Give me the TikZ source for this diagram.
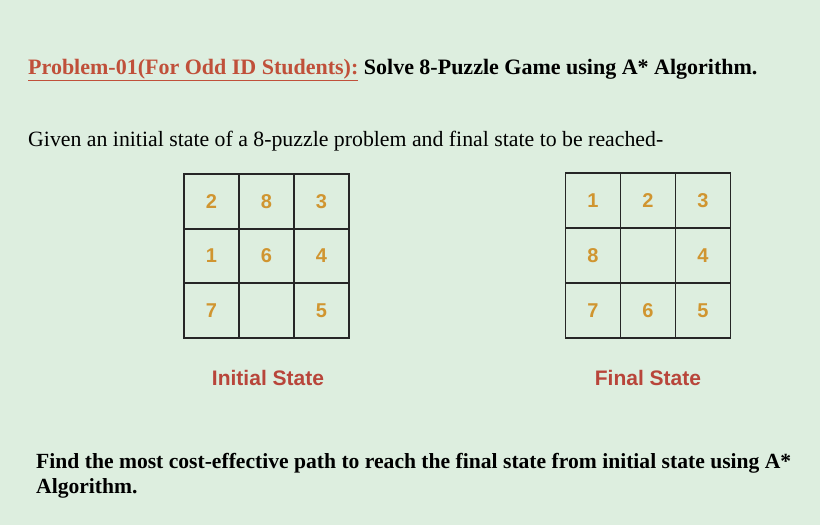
\documentclass[tikz,border=0pt]{standalone}
\usepackage{fontspec}
\setmainfont{Liberation Serif}
\newfontfamily\lsans{Liberation Sans}
\definecolor{bg}{HTML}{DDEEDF}
\definecolor{dig}{HTML}{D09530}
\definecolor{lab}{HTML}{B8453A}
\definecolor{ttl}{HTML}{C0503A}
\begin{document}
\begin{tikzpicture}[x=1pt,y=-1pt,
  cell/.style={draw=black!85,line width=1.6pt,minimum width=55pt,minimum height=54.5pt,inner sep=0,font=\lsans\fontsize{20}{20}\selectfont\bfseries,text=dig},
  lbl/.style={font=\lsans\fontsize{21}{21}\selectfont\bfseries,text=lab,anchor=center},
  txt/.style={anchor=west,inner sep=0,font=\fontsize{21.8}{22}\selectfont}]
\fill[bg] (0,0) rectangle (820,525);
\useasboundingbox (0,0) rectangle (820,525);
\node[txt] (title) at (28,70) {\fontsize{22}{22}\selectfont\bfseries\textcolor{ttl}{\underline{Problem-01(For Odd ID Students):}} Solve 8-Puzzle Game using A* Algorithm.};
\node[txt] (given) at (28,141) {Given an initial state of a 8-puzzle problem and final state to be reached-};
\foreach \v [count=\i from 0] in {2,8,3,1,6,4,7,,5}{
  \pgfmathtruncatemacro\c{mod(\i,3)}\pgfmathtruncatemacro\r{div(\i,3)}
  \node[cell] (a\i) at ({211.5+\c*55},{201.5+\r*54.5}) {\v};}
\foreach \v [count=\i from 0] in {1,2,3,8,,4,7,6,5}{
  \pgfmathtruncatemacro\c{mod(\i,3)}\pgfmathtruncatemacro\r{div(\i,3)}
  \node[cell] (b\i) at ({593+\c*55},{200.5+\r*55}) {\v};}
\node[lbl] (il) at (268,378) {Initial State};
\node[lbl] (fl) at (648,378) {Final State};
\node[txt,font=\fontsize{21.6}{22}\selectfont\bfseries] (f1) at (36,463) {Find the most cost-effective path to reach the final state from initial state using A*};
\node[txt,font=\fontsize{21.6}{22}\selectfont\bfseries] (f2) at (36,488) {Algorithm.};
\end{tikzpicture}
\end{document}
